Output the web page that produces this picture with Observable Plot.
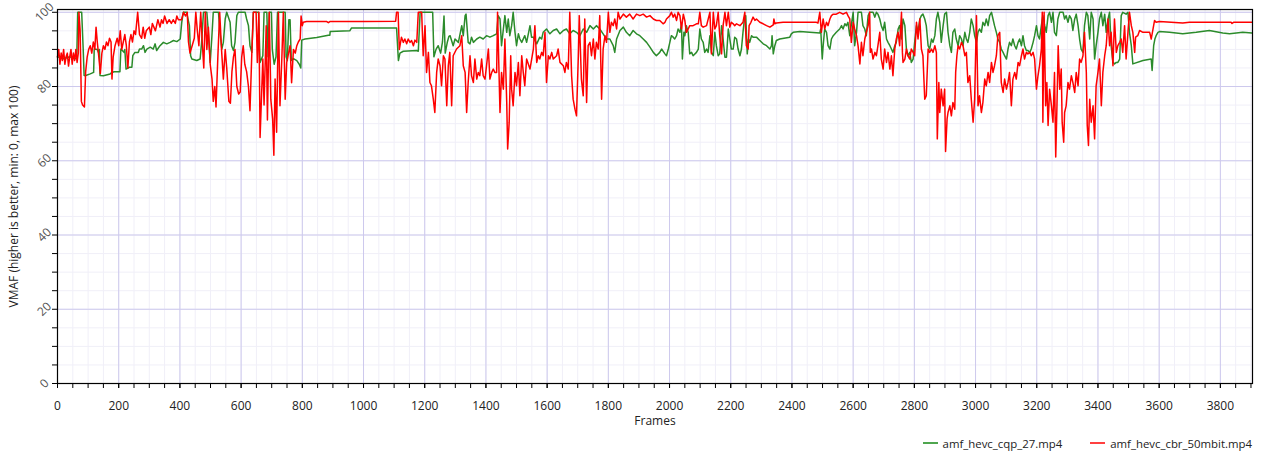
<!DOCTYPE html>
<html>
<head>
<meta charset="utf-8">
<script src="https://cdn.jsdelivr.net/npm/d3@7"></script>
<script src="https://cdn.jsdelivr.net/npm/@observablehq/plot@0.6"></script>
<style>
  html, body { margin: 0; padding: 0; background: #fff; }
  body { width: 1261px; height: 456px; overflow: hidden; font-family: "Open Sans", "Noto Sans", sans-serif; }
  #chart svg { display: block; }
  #legend { display: flex; justify-content: flex-end; align-items: center; height: 26px; padding-right: 9px; font-size: 11.4px; color: #222; }
  .item { display: flex; align-items: center; margin-left: 28px; }
  .sw { width: 15px; height: 2px; margin-right: 5px; }
</style>
</head>
<body>
<div id="chart"></div>
<div id="legend"></div>
<script>
const seriesNames = ["amf_hevc_cqp_27.mp4", "amf_hevc_cbr_50mbit.mp4"];
const seriesColors = ["#2b8b2b", "#ff0000"];
const legendColors = ["#4fa64f", "#ff4040"];
const xMajorTicks = d3.range(0, 3801, 200);
const xMinorTicks = d3.range(0, 3901, 50);
const yMajorTicks = [0, 20, 40, 60, 80, 100];
const yMinorTicks = d3.range(0, 101, 5);
const xTitle = "Frames";
const yTitle = "VMAF (higher is better, min: 0, max 100)";

// [frame, vmaf] — amf_hevc_cqp_27.mp4
const cqpPoints = [
[0,88],[20,87.5],[40,88],[60,87.5],[63,88],[66,100],[79,100],[84,90],[87,83],[90,82.9],[107,83.4],[118,83.8],[120,90.1],[130,90],[134,89.2],[137,90],[139,83],[150,82.9],[172,83.4],[178,83.8],[185,84],[204,84],[207,90.1],[218,89.2],[220,90],[224,84.7],[235,85.2],[243,85.2],[246,88.3],[253,89.2],[264,89.2],[268,90.1],[275,90.1],[281,91],[286,89.2],[292,90.1],[303,90.6],[313,90.1],[319,91.5],[324,89.7],[335,91],[346,91.9],[357,91.5],[368,91.9],[379,92.4],[390,92.1],[401,92.8],[406,97.3],[411,100],[422,100],[431,96.4],[435,88.3],[439,87.4],[455,87],[466,87.4],[471,91.9],[477,100],[488,100],[493,94.6],[499,86.5],[504,92.8],[509,100],[526,100],[531,94.6],[537,90.1],[542,91.9],[548,98.2],[553,100],[564,97.3],[569,91],[575,89.7],[580,91.9],[586,99.1],[591,100],[613,100],[618,98.2],[624,96.4],[629,91],[635,89.2],[640,100],[657,100],[662,86.5],[671,88.3],[675,100],[684,100],[688,88],[692,100],[699,100],[702,90],[708,86],[714,88],[719,100],[744,100],[747,88],[751,87],[756,98],[760,98],[764,87],[771,87.5],[782,87],[790,86],[795,85],[798,92.5],[809,92.8],[847,93.2],[885,93.8],[890,93.8],[891,94.8],[955,95],[961,95.8],[1108,95.8],[1114,87],[1119,89],[1130,89.5],[1174,89.7],[1179,89.5],[1185,100],[1226,100],[1230,88],[1237,90],[1244,91],[1252,89],[1258,92],[1263,99],[1267,89],[1274,92],[1279,93.5],
[1283,93.7],[1293,91],[1299,92.8],[1310,91.9],[1321,96.4],[1326,93.7],[1332,99.1],[1335,99.5],[1342,91.9],[1348,91.5],[1353,93.3],[1359,91.9],[1370,92.8],[1380,93.3],[1391,92.8],[1402,93.7],[1413,93.3],[1424,93.7],[1435,94.2],[1440,99.1],[1446,98.2],[1451,91],[1457,95.5],[1462,99.1],[1468,94.6],[1473,98.2],[1478,93.7],[1484,96.4],[1489,100],[1495,94.6],[1500,91],[1506,94.2],[1511,92.8],[1517,91.9],[1527,93.7],[1533,91.9],[1544,96.4],[1549,93.3],[1555,93.3],[1566,91.5],[1576,93.3],[1582,92.8],[1587,94.6],[1598,95.5],[1609,94.2],[1620,95.1],[1631,95.5],[1642,94.2],[1653,95.1],[1663,95.5],[1674,94.2],[1685,95.1],[1696,94.6],[1707,93.7],[1718,95.5],[1729,94.6],[1740,96.4],[1751,95.5],[1761,96.4],[1772,95.5],[1783,94.2],[1794,92.8],[1805,92.8],[1816,91],[1821,89.2],[1827,92.8],[1838,95.1],[1849,96],[1859,94.6],[1870,93.7],[1881,95.1],[1892,94.2],[1903,93.7],[1914,92.8],[1925,91.9],[1936,90.6],[1947,89.2],[1957,88.3],[1968,89.2],
[1974,90.1],[1985,88.8],[1990,88.3],[1996,90.1],[2001,91.9],[2006,93.7],[2012,93.3],[2017,92.8],[2023,93.7],[2028,95.5],[2034,94.6],[2039,96.9],[2042,87.4],[2047,94.6],[2050,93.7],[2055,96.4],[2061,94.6],[2066,88.8],[2072,89.2],[2077,88.3],[2088,89.2],[2094,90.1],[2099,95.5],[2104,92.8],[2110,91.9],[2115,89.2],[2121,90.1],[2126,89.2],[2132,93.7],[2137,89.2],[2143,88.3],[2148,94.6],[2153,91],[2159,88.3],[2164,88.8],[2170,96.4],[2175,92.8],[2181,87.9],[2186,87.9],[2192,95.5],[2197,92.8],[2202,90.1],[2208,90.1],[2213,93.3],[2219,92.8],[2224,90.1],[2230,88.3],[2235,90.1],[2240,94.6],[2246,99.1],[2249,99.1],[2254,88.8],[2258,92.8],[2262,91.9],[2268,93.7],[2273,93.3],[2284,93.3],[2295,92.4],[2306,91.5],[2317,91],[2328,90.1],[2333,91],[2335,93.7],[2339,88.8],[2344,91],[2349,92.4],[2360,92.8],[2393,93.3],[2398,94.2],[2404,94.6],[2426,94.8],[2458,94.6],[2491,94.4],[2494,95.5],[2499,87.4],[2502,91],[2507,95.5],[2513,94.6],[2518,91],[2524,90.1],[2529,92.8],[2535,93.7],[2545,94.6],[2556,95.5],[2562,96.4],[2567,95.5],[2573,96.9],[2578,96.4],[2583,97.3],[2589,93.7],[2600,100],[2605,91],[2611,94.6],[2616,100],[2622,100],
[2627,100],[2632,96.4],[2638,95.5],[2643,93.7],[2649,99.1],[2654,100],[2665,100],[2671,98.7],[2676,100],[2681,99.5],[2687,98.2],[2692,96.4],[2698,95.1],[2703,97.3],[2709,92.8],[2714,91.9],[2720,91],[2725,90.1],[2730,89.2],[2736,91],[2741,91.9],[2747,95.5],[2752,96.4],[2758,92.8],[2763,98.2],[2769,96.4],[2774,90.1],[2779,88.3],[2785,89.2],[2790,86.5],[2796,87.4],[2801,91.9],[2807,96.4],[2812,94.6],[2818,98.2],[2823,99.1],[2828,99.5],[2834,98.2],[2839,96.4],[2845,91],[2850,90.1],[2856,92.8],[2861,91.9],[2867,93.7],[2872,98.2],[2877,100],[2883,97.3],[2888,91.9],[2894,96.4],[2899,99.5],[2905,100],[2910,94.6],[2916,91],[2921,89.2],[2926,94.6],[2932,95.5],[2937,92.8],[2943,91],[2948,93.7],[2954,92.8],[2959,91],[2965,94.6],[2970,92.8],[2975,91.9],[2981,94.6],[2986,98.2],[2992,96.4],[2997,93.7],[3003,91.9],[3008,94.6],[3013,95.5],[3019,94.6],[3024,97.3],[3030,96.4],[3035,98.2],[3041,96.4],[3046,99.1],[3052,100],[3057,98.2],[3062,96.4],[3068,94.6],[3073,92.8],[3079,91.9],[3084,90.1],[3090,89.2],[3095,88.3],[3101,87.4],[3106,90.1],[3111,91.9],[3117,91],[3122,92.8],[3128,91],[3133,90.1],[3139,91.9],[3144,92.8],[3150,91],[3155,93.7],[3160,91],[3166,89.7],[3171,89.7],[3177,89.2],[3182,90.1],[3188,91.9],[3193,93.7],[3199,96.4],[3204,93.7],[3209,92.8],[3215,96.4],[3220,99.1],[3226,96.4],[3231,94.6],[3237,99.1],[3242,100],[3248,97.3],[3253,100],[3258,94.6],[3264,93.7],[3269,98.2],[3275,100],
[3286,100],[3291,98.2],[3296,99.1],[3302,97.3],[3307,99.1],[3313,98.2],[3318,95.1],[3324,98.2],[3329,99.5],[3335,96.4],[3340,92.8],[3345,90.1],[3351,89.2],[3356,96.4],[3362,100],[3367,99.1],[3373,92.8],[3378,100],[3384,98.2],[3389,87.4],[3394,91],[3400,94.6],[3405,98.2],[3411,100],[3416,96.4],[3422,99.5],[3427,94.6],[3433,98.2],[3438,100],[3443,91],[3449,86.5],[3454,86.1],[3460,86.5],[3465,86.5],[3471,87.4],[3476,99.1],[3481,100],[3492,99.5],[3498,100],[3503,94.6],[3509,91],[3514,86.1],[3547,87],[3574,87.4],[3577,84.3],[3582,91],[3586,92.8],[3590,93.7],[3596,94.6],[3601,94.8],[3634,94.6],[3677,94.2],[3721,94.6],[3764,95.1],[3808,94.4],[3830,94.2],[3852,94.4],[3873,94.6],[3903,94.4]
];

// [frame, vmaf] — amf_hevc_cbr_50mbit.mp4
const cbrPoints = [
[0,88],[4,90],[8,86],[12,89],[16,87],[20,90],[24,86],[28,88],[32,89],[36,85.5],[40,88],[44,90],[48,86],[52,89],[56,87],[60,90],[64,86.5],[68,89],[70,100],[74,95],[78,76],[82,75],[88,74.5],[92,84],[97,88],[102,90],[107,91],[112,89],[117,92],[122,90],[126,96],[130,92],[135,88],[140,83.5],[145,89],[150,91],[155,90],[160,92],[165,91],[170,93],[175,92],[178,82],[182,88],[188,91],[195,93],[200,91],[205,95],[210,90],[215,92],[220,94],[225,91],[230,85],[235,92],[240,94],[245,92],[250,95],[255,94],[262,100],[268,94],[275,93],[280,96],[285,93],[290,95],[300,96],[305,94],[310,97],[315,96],[320,95],[328,98],[335,96],[340,98],[345,97],[350,99],[358,97],[365,98],[372,97],[378,98],[385,97],[390,99],[395,98],[405,98],[412,100],[418,99],[424,100],[428,92],[433,89],[440,91],[447,93],[452,100],[457,95],[462,91],[468,100],[473,92],[478,85],[483,100],[488,90],[493,96],[499,86],[505,82],[509,76],[514,80],[518,74.5],[524,88],[530,100],[536,90],[542,82],[548,90],[553,85],[560,76],[565,75.5],[570,84],[575,88],[580,90],[586,80],[592,78],[597,78.5],[602,88],[607,91],[612,86],[618,84],[624,80],[629,73.5],[635,89],[640,100],[649,100],[653,86.5],[658,100],[662,66.3],
[671,87.4],[675,75],[682,96.4],[686,71],[692,100],[697,76.6],[703,71.3],[707,61.5],[711,82],[716,67.7],[722,100],[727,74.8],[733,87.4],[738,100],[744,76.6],[749,86.5],[755,89],[760,91],[765,81],[771,90],[777,89],[782,91],[787,92],[793,92.8],[796,99],[800,96.4],[803,97.3],[814,97.5],[880,97.5],[885,97.2],[890,97.5],[1000,97.5],[1105,97.6],[1108,100],[1113,100],[1117,90],[1124,93.3],[1130,91.9],[1135,92.8],[1141,91.5],[1146,92.8],[1152,91.9],[1157,92.4],[1163,91],[1168,92.5],[1174,91.9],[1179,100],[1190,100],[1195,88.3],[1201,96.4],[1206,83.8],[1212,89.2],[1217,81.1],[1222,80.2],[1228,76.6],[1233,73],[1239,83.8],[1244,87.4],[1250,85.6],[1255,80.2],[1261,88.3],[1266,87.4],[1272,74.8],[1277,85.6],[1282,89.2],
[1288,74.8],[1293,88.3],[1304,90.1],[1315,91],[1321,93.7],[1326,85.6],[1332,83.8],[1337,73],[1342,81.1],[1348,88.3],[1353,82.9],[1359,81.1],[1364,87.4],[1370,82],[1375,83.8],[1380,82.9],[1386,87.4],[1391,82.9],[1397,82],[1402,85.6],[1408,90.1],[1413,82],[1419,83.8],[1424,84.7],[1429,83.8],[1435,83.8],[1438,100],[1446,73],[1451,83.8],[1457,79.3],[1462,92.8],[1468,75.7],[1471,63.2],[1476,70.4],[1481,88.3],[1484,79.3],[1489,74.8],[1495,83.8],[1500,80.2],[1506,86.5],[1511,77.5],[1517,88.3],[1522,83.8],[1527,80.2],[1533,87.4],[1544,84.7],[1555,90.1],[1560,96.4],[1566,86.5],[1571,88.3],[1576,87.4],[1582,89.2],[1587,88.3],[1593,94.6],[1598,81.1],[1604,88.3],[1609,87.4],[1615,89.2],[1620,87.4],[1631,88.3],[1636,90.1],[1642,86.5],[1653,85.6],[1658,83.8],[1663,86.5],[1669,84.7],[1674,100],[1680,82.9],[1685,76.6],[1691,73.9],[1696,72.1],[1702,88.3],[1705,99.1],[1712,82],[1718,77.5],[1723,98.2],[1729,75.7],[1734,91],[1740,91.9],[1745,88.3],[1751,92.8],[1756,87.4],[1761,91.9],[1767,90.1],[1772,99.1],[1778,76.6],[1783,90.1],[1789,93.7],[1794,91.9],[1800,100],[1805,94.6],[1810,97.3],[1816,96.4],[1821,98.2],[1827,95.5],[1832,100],[1838,98.2],[1849,99.5],[1859,98.7],[1870,99.5],[1881,98.2],[1892,99.5],[1903,99.1],[1914,99.5],[1925,98.7],[1936,99.1],[1947,98.2],[1957,97.8],[1968,97.8],
[1979,96.9],[1985,97.3],[1990,98.2],[2001,99.1],[2006,100],[2012,98.7],[2017,99.5],[2023,97.8],[2028,100],[2034,99.1],[2039,95.5],[2045,99.5],[2050,97.8],[2055,94.6],[2061,95.5],[2066,96.4],[2077,96.4],[2088,96.9],[2094,96.9],[2099,100],[2104,96.4],[2110,96],[2121,96.4],[2132,100],[2137,88.8],[2143,100],[2148,95.5],[2153,96.4],[2159,100],[2164,93.7],[2170,88.8],[2175,96.4],[2181,100],[2186,96.4],[2192,100],[2197,96],[2202,97.3],[2208,96.9],[2213,96.4],[2219,96.9],[2230,96.4],[2240,97.3],[2246,100],[2251,91],[2257,90.1],[2260,96.4],[2266,97.3],[2273,98.7],[2279,97.8],[2284,98.2],[2295,97.3],[2306,96.9],[2317,96.4],[2328,96],[2339,96.6],[2341,98.2],[2344,96.9],[2349,97.1],[2371,97.3],[2480,97.3],[2485,97.1],[2491,100],[2496,94.6],[2502,98.2],[2507,95.5],[2513,97.3],[2518,96.4],[2524,98.2],[2529,99.1],[2535,99.5],[2545,99.5],[2556,100],[2567,99.5],[2578,100],[2583,99.1],[2589,98.2],[2594,91.9],[2600,97.3],[2605,95.5],[2611,93.7],[2616,91],[2622,86.1],
[2627,91.9],[2632,88.3],[2638,92.8],[2643,94.6],[2649,96.4],[2654,100],[2656,89.2],[2660,90.1],[2665,87.4],[2671,89.2],[2676,88.3],[2681,91],[2687,94.6],[2692,87.4],[2698,84.7],[2703,90.1],[2709,86.5],[2714,89.2],[2720,84.7],[2725,88.3],[2730,82.9],[2736,90.1],[2741,92.8],[2747,94.6],[2752,91],[2758,100],[2761,89.2],[2763,86.5],[2769,87.4],[2774,90.1],[2779,88.3],[2785,87.4],[2790,90.1],[2796,89.2],[2801,88.3],[2807,97.3],[2812,92.8],[2818,98.2],[2823,90.1],[2828,88.3],[2834,76.6],[2839,77.5],[2845,90.1],[2850,89.2],[2856,90.1],[2861,89.2],[2867,91],[2872,89.2],[2875,65.9],[2880,81.1],[2883,73],[2888,79.3],[2894,74.8],[2899,79.3],[2902,62.5],[2907,71.3],[2910,73],[2916,74.8],[2921,72.1],[2926,75.7],[2932,73.9],[2935,83.8],[2939,88.3],[2943,91],[2948,90.1],[2954,91.9],[2959,91],[2965,88.3],[2970,89.2],[2975,81.1],[2981,82.9],[2986,76.6],[2992,70.4],[2997,76.6],[3003,99.1],[3008,74.8],[3013,77.5],[3019,73],[3024,75.7],[3030,82],[3035,80.2],[3041,83.8],[3046,81.1],[3052,86.5],[3057,83.8],[3062,85.6],[3068,88.3],[3073,93.7],[3079,94.6],[3084,81.1],[3090,78.4],[3095,82],[3101,79.3],[3106,81.1],[3111,83.8],[3117,74.8],[3122,82],[3128,83.8],[3133,82],[3139,86.5],[3144,85.6],[3150,88.3],[3155,90.1],[3160,87.4],[3166,89.2],[3171,88.8],[3177,89.2],[3182,88.3],[3188,89.2],[3193,87.4],[3199,79.3],[3204,82.9],[3209,85.6],[3215,90.1],[3218,100],[3220,70.4],[3224,100],[3229,74.8],[3233,81.1],[3237,69.5],[3242,79.3],[3248,74.8],[3253,70.4],[3258,83.8],[3262,61],[3266,74.8],[3270,91],[3275,79.3],
[3280,84.7],[3283,70.4],[3288,65],[3291,73],[3296,74.8],[3302,81.1],[3307,79.3],[3313,82.9],[3318,81.1],[3324,78.4],[3329,83.8],[3335,80.2],[3340,87.4],[3345,86.5],[3351,88.3],[3356,94.6],[3362,83.8],[3365,69.5],[3369,64.1],[3373,76.6],[3378,70.4],[3384,74.8],[3389,65.9],[3394,80.2],[3400,83.8],[3405,87.4],[3411,74.8],[3416,83.8],[3422,88.3],[3427,91],[3433,98.2],[3438,91],[3443,94.6],[3449,85.6],[3454,98.2],[3460,89.2],[3465,91],[3471,91.9],[3476,92.8],[3481,89.2],[3487,96.4],[3492,87.4],[3498,94.6],[3503,100],[3509,96.4],[3514,94.6],[3520,89.2],[3523,93.3],[3530,93.7],[3536,95.1],[3547,94.6],[3569,94.6],[3574,92.8],[3580,95.5],[3585,97.8],[3590,97.3],[3601,97.5],[3677,97.1],[3699,97.3],[3786,97.3],[3835,97.3],[3838,97],[3843,97.3],[3903,97.3]
];

const rows = [
  ...cqpPoints.map(([f, v]) => ({frame: f, vmaf: v, series: seriesNames[0]})),
  ...cbrPoints.map(([f, v]) => ({frame: f, vmaf: v, series: seriesNames[1]}))
];

const majorGrid = "#cdc9ed";
const minorGrid = "#f0eff8";

const chart = Plot.plot({
  width: 1261,
  height: 430,
  marginLeft: 57,
  marginRight: 9,
  marginTop: 9,
  marginBottom: 47,
  style: {fontFamily: '"Open Sans", "Noto Sans", sans-serif', fontSize: "12px", background: "#fff"},
  x: {domain: [0, 3905], label: null},
  y: {domain: [0, 100.75], label: null},
  color: {domain: seriesNames, range: seriesColors},
  marks: [
    Plot.gridX(xMinorTicks, {stroke: minorGrid, strokeOpacity: 1}),
    Plot.gridY(yMinorTicks, {stroke: minorGrid, strokeOpacity: 1}),
    Plot.gridX(xMajorTicks, {stroke: majorGrid, strokeOpacity: 1}),
    Plot.gridY(yMajorTicks, {stroke: majorGrid, strokeOpacity: 1}),
    Plot.line(rows, {x: "frame", y: "vmaf", z: "series", stroke: "series", strokeWidth: 1.5, curve: "linear"}),
    Plot.frame({stroke: "#000", strokeWidth: 1.2}),
    Plot.axisX({ticks: xMinorTicks, tickSize: 5, tickFormat: () => "", stroke: "#000"}),
    Plot.axisX({ticks: xMajorTicks, tickSize: 5, tickPadding: 13, tickFormat: d => String(d), fill: "#222", label: null}),
    Plot.axisY({ticks: yMinorTicks, tickSize: 5, tickFormat: () => "", label: null}),
    Plot.text(yMajorTicks, {y: d => d, frameAnchor: "left", dx: -13, rotate: -45, text: d => String(d), fill: "#555", textAnchor: "middle", lineAnchor: "middle"}),
    Plot.text([xTitle], {frameAnchor: "bottom", dy: 38, fill: "#222", textAnchor: "middle", lineAnchor: "middle"}),
    Plot.text([yTitle], {frameAnchor: "left", dx: -43, rotate: -90, fill: "#222", textAnchor: "middle", lineAnchor: "middle"})
  ]
});
document.getElementById("chart").appendChild(chart);

const legend = document.getElementById("legend");
seriesNames.forEach((name, i) => {
  const item = document.createElement("div");
  item.className = "item";
  const sw = document.createElement("div");
  sw.className = "sw";
  sw.style.background = legendColors[i];
  const label = document.createElement("span");
  label.textContent = name;
  item.appendChild(sw);
  item.appendChild(label);
  legend.appendChild(item);
});
</script>
</body>
</html>
